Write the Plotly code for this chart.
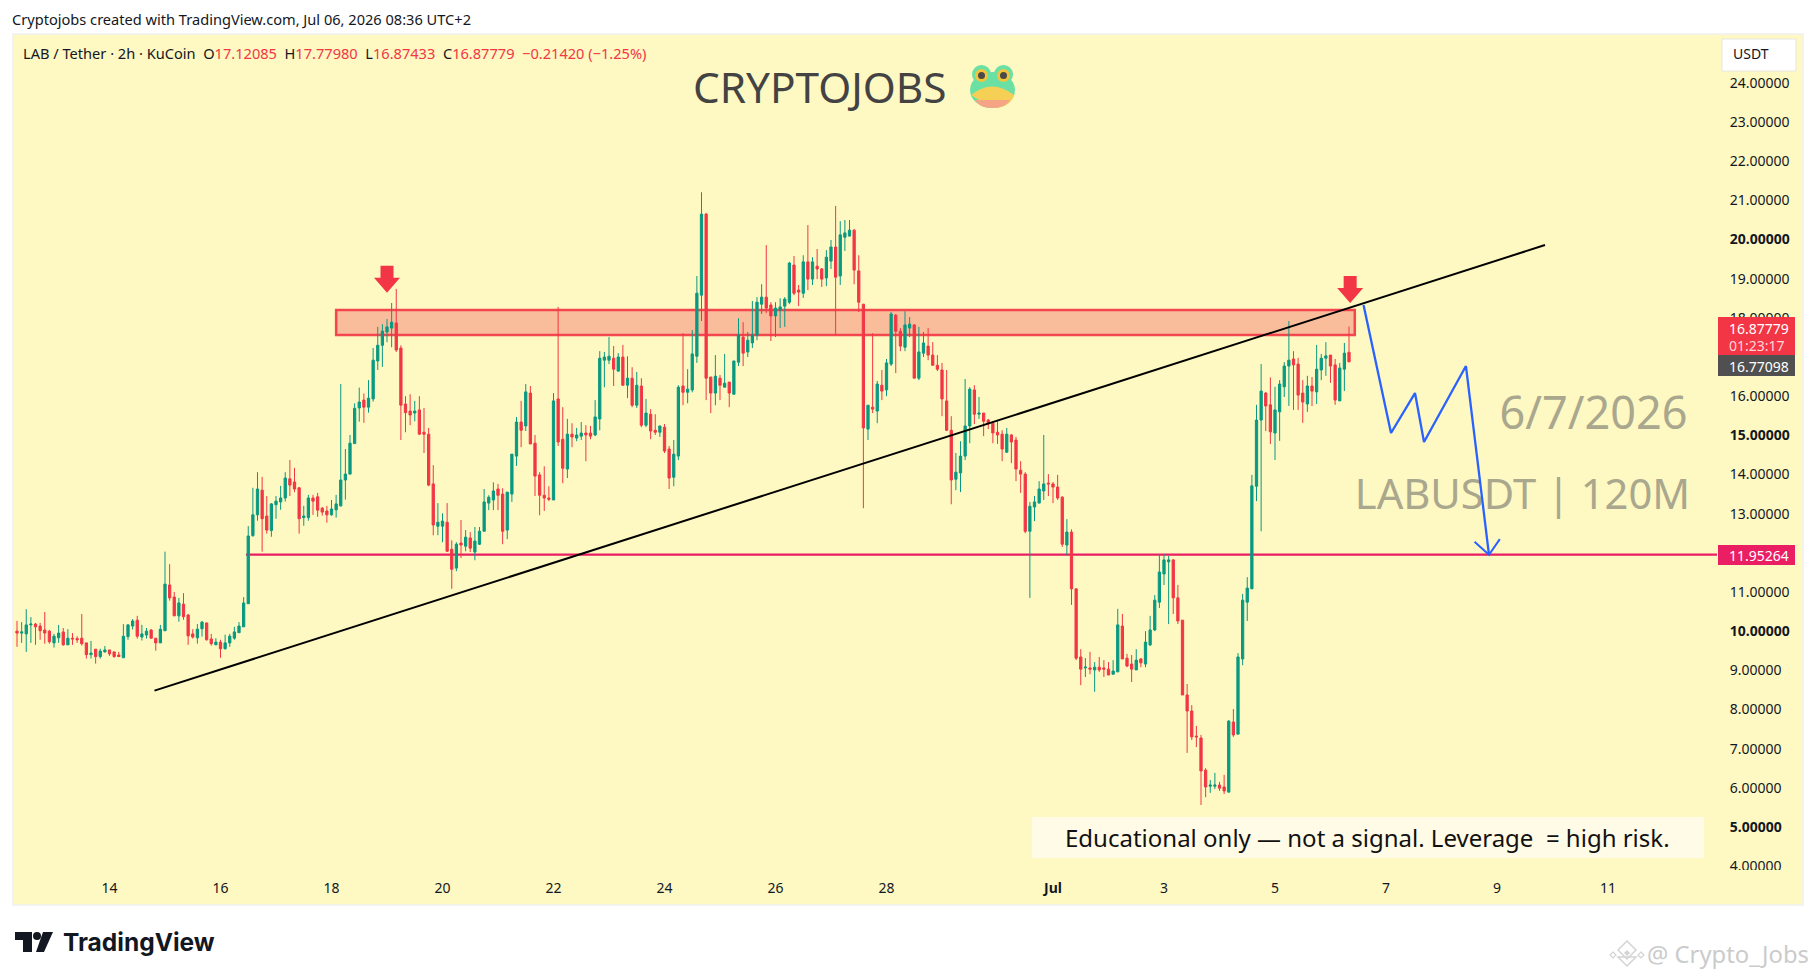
import pandas as pd
import plotly.graph_objects as go

# candles, 2h bars
opens = [
    10.00, 9.95, 9.93, 10.16, 10.18, 10.13, 10.03, 10.00, 9.70, 9.83,
    9.98, 9.65, 9.82, 9.81, 9.82, 9.70, 9.40, 9.54, 9.35, 9.47,
    9.52, 9.47, 9.39, 9.32, 9.86, 10.13, 10.28, 9.85, 9.90, 10.03,
    9.82, 9.70, 10.01, 11.18, 10.87, 10.39, 10.69, 10.41, 9.93, 9.83,
    10.06, 10.21, 9.80, 9.65, 9.72, 9.55, 9.70, 9.82, 9.96, 10.11,
    10.70, 12.44, 12.97, 13.60, 12.94, 12.57, 13.23, 13.30, 13.40, 13.89,
    13.81, 13.66, 12.90, 12.90, 13.40, 13.43, 13.14, 13.07, 12.97, 13.10,
    13.20, 13.86, 14.01, 14.79, 15.70, 15.90, 15.72, 15.93, 16.90, 17.30,
    17.64, 17.74, 17.87, 17.23, 15.80, 15.62, 15.57, 15.65, 15.08, 15.03,
    13.76, 12.68, 12.68, 12.78, 12.09, 11.61, 12.25, 12.17, 12.38, 12.02,
    12.22, 12.55, 13.27, 13.35, 13.63, 13.50, 12.58, 13.50, 14.47, 15.34,
    15.24, 16.08, 14.80, 13.99, 13.47, 13.40, 13.35, 15.93, 14.90, 14.14,
    15.03, 14.93, 14.98, 15.06, 15.06, 15.01, 15.42, 16.92, 16.92, 16.97,
    16.64, 17.00, 16.28, 16.46, 15.77, 16.26, 15.26, 15.54, 15.13, 15.08,
    15.21, 14.65, 13.93, 14.47, 16.26, 16.10, 16.16, 17.02, 18.58, 20.65,
    16.49, 16.08, 16.46, 16.23, 16.36, 16.05, 16.87, 17.51, 17.13, 17.36,
    17.56, 18.35, 18.53, 18.33, 18.05, 18.20, 18.30, 18.40, 19.35, 18.71,
    18.63, 19.43, 18.99, 19.32, 19.25, 19.02, 19.45, 19.81, 19.07, 20.06,
    20.09, 20.24, 19.20, 18.35, 15.16, 15.72, 15.62, 16.28, 16.16, 16.82,
    18.07, 17.66, 17.25, 17.74, 17.82, 16.46, 17.10, 17.28, 17.05, 16.79,
    16.67, 15.88, 15.13, 13.88, 14.04, 14.47, 15.24, 16.16, 15.54, 15.57,
    15.39, 15.31, 15.08, 15.03, 14.57, 15.01, 14.88, 14.11, 14.01, 12.55,
    13.17, 13.27, 13.58, 13.78, 13.76, 13.68, 13.42, 12.20, 12.53, 11.08,
    9.34, 9.06, 9.06, 9.01, 9.08, 9.06, 9.03, 8.90, 8.96, 10.13,
    9.31, 9.16, 9.01, 9.29, 9.16, 9.65, 10.03, 10.74, 11.46, 11.77,
    11.82, 10.85, 10.28, 8.37, 7.96, 7.32, 7.27, 6.45, 6.04, 6.04,
    6.07, 6.02, 5.89, 7.68, 7.37, 9.29, 10.74, 11.08, 13.70, 15.39,
    16.08, 15.78, 15.06, 15.60, 16.24, 16.77, 16.95, 16.82, 16.08, 15.80,
    16.26, 16.11, 16.67, 16.97, 17.05, 16.80, 15.88, 16.69, 17.12085,
]
highs = [
    10.26, 10.23, 10.56, 10.36, 10.21, 10.21, 10.49, 10.03, 9.93, 10.16,
    10.08, 10.05, 9.95, 9.87, 10.44, 9.70, 9.75, 9.54, 9.55, 9.62,
    9.52, 9.47, 9.47, 10.18, 10.18, 10.31, 10.39, 10.16, 10.08, 10.05,
    9.82, 10.16, 12.03, 11.71, 11.00, 10.85, 10.97, 10.44, 10.05, 10.18,
    10.26, 10.21, 9.93, 9.82, 9.78, 9.91, 9.93, 10.11, 10.23, 10.87,
    12.68, 13.66, 14.06, 13.94, 13.45, 13.27, 13.45, 13.71, 14.06, 14.37,
    14.17, 13.68, 13.20, 13.48, 13.48, 13.53, 13.17, 13.20, 13.35, 13.48,
    16.31, 14.65, 15.01, 15.82, 16.22, 16.07, 16.41, 17.23, 17.77, 17.84,
    17.97, 18.38, 18.74, 17.30, 16.00, 16.05, 15.88, 16.00, 15.70, 15.19,
    14.24, 13.27, 13.01, 13.27, 12.32, 12.27, 12.84, 12.58, 12.53, 12.66,
    12.66, 13.63, 13.47, 13.80, 13.76, 13.65, 13.55, 14.52, 15.47, 15.88,
    16.31, 16.26, 15.01, 14.06, 14.21, 13.70, 16.08, 18.28, 15.72, 15.42,
    15.31, 15.19, 15.34, 15.26, 15.24, 15.90, 17.15, 17.13, 17.51, 17.28,
    17.10, 17.31, 17.02, 16.74, 16.62, 16.46, 15.93, 15.67, 15.54, 15.24,
    15.29, 14.73, 14.88, 16.28, 17.61, 16.69, 17.69, 19.07, 21.21, 20.68,
    16.49, 17.05, 16.54, 17.08, 16.36, 16.90, 17.99, 17.89, 17.64, 18.43,
    18.53, 18.86, 19.86, 18.40, 18.40, 18.50, 18.53, 19.43, 19.58, 18.84,
    19.60, 20.37, 19.55, 19.76, 19.27, 19.73, 19.99, 20.86, 20.47, 20.50,
    20.50, 20.27, 19.60, 18.35, 15.77, 17.61, 16.39, 16.67, 16.95, 18.15,
    18.10, 17.74, 18.17, 18.02, 17.84, 17.77, 17.64, 17.74, 17.38, 17.05,
    16.85, 16.67, 15.49, 14.55, 14.85, 16.44, 16.23, 16.28, 15.98, 15.57,
    15.42, 15.36, 15.36, 15.13, 15.19, 15.03, 14.96, 14.34, 14.06, 13.30,
    13.45, 13.83, 15.01, 14.01, 13.81, 13.99, 13.45, 12.86, 12.60, 11.08,
    9.54, 9.31, 9.47, 9.21, 9.34, 9.26, 9.21, 9.26, 10.57, 10.44,
    9.42, 9.39, 9.54, 9.31, 10.00, 10.39, 10.92, 11.97, 11.97, 11.92,
    11.84, 11.18, 10.28, 8.65, 8.11, 7.58, 7.35, 6.50, 6.20, 6.38,
    6.15, 6.33, 7.73, 8.01, 9.44, 10.95, 11.38, 13.99, 15.78, 16.82,
    16.11, 16.48, 16.24, 16.41, 16.87, 17.92, 17.15, 16.98, 16.41, 16.52,
    16.49, 17.31, 17.08, 17.38, 17.05, 16.95, 16.85, 17.36, 17.7798,
]
lows = [
    9.60, 9.70, 9.47, 9.70, 9.65, 9.78, 9.68, 9.68, 9.58, 9.70,
    9.63, 9.65, 9.65, 9.70, 9.63, 9.30, 9.30, 9.17, 9.30, 9.45,
    9.37, 9.32, 9.35, 9.32, 9.78, 10.04, 9.81, 9.76, 9.81, 9.82,
    9.50, 9.70, 10.01, 10.78, 10.39, 10.24, 10.29, 9.65, 9.81, 9.68,
    9.86, 9.76, 9.63, 9.65, 9.32, 9.53, 9.60, 9.78, 9.96, 10.11,
    10.70, 12.41, 12.82, 12.03, 12.49, 12.41, 12.87, 13.10, 13.31, 13.45,
    13.55, 12.49, 12.69, 12.82, 12.97, 12.92, 12.95, 12.77, 12.95, 12.90,
    13.18, 13.36, 14.01, 14.79, 15.35, 15.32, 15.58, 15.86, 16.67, 16.75,
    17.38, 17.25, 17.13, 14.88, 15.08, 15.26, 15.36, 15.01, 14.55, 13.70,
    12.45, 12.45, 12.27, 12.02, 11.08, 11.53, 11.87, 12.04, 12.02, 11.81,
    12.20, 12.55, 13.09, 13.09, 13.09, 12.22, 12.35, 13.30, 14.22, 14.70,
    15.11, 14.78, 13.45, 12.96, 13.07, 13.32, 13.35, 14.73, 13.78, 13.91,
    14.70, 14.85, 14.88, 14.34, 14.90, 14.98, 15.13, 16.23, 16.82, 16.26,
    16.64, 16.28, 15.95, 15.72, 15.70, 15.21, 15.21, 14.90, 15.01, 14.96,
    14.55, 13.63, 13.70, 14.37, 15.77, 15.82, 16.10, 16.85, 17.92, 15.90,
    15.57, 15.77, 15.90, 16.23, 15.72, 16.05, 16.77, 16.77, 17.00, 17.23,
    17.43, 18.10, 18.12, 17.41, 17.51, 17.74, 17.77, 18.35, 18.58, 18.30,
    18.51, 18.71, 18.84, 18.99, 18.79, 18.81, 19.25, 17.56, 18.84, 19.71,
    20.08, 18.86, 18.15, 13.14, 14.88, 15.57, 15.31, 15.90, 16.00, 16.77,
    16.59, 17.15, 17.15, 17.51, 16.46, 16.41, 17.00, 16.92, 16.79, 16.64,
    15.49, 15.11, 13.24, 13.60, 13.55, 14.37, 14.80, 15.29, 15.42, 14.98,
    15.16, 14.80, 14.78, 14.34, 14.55, 14.29, 13.83, 13.53, 12.50, 10.85,
    12.81, 13.27, 13.35, 13.45, 13.27, 13.35, 12.15, 11.94, 10.67, 9.26,
    8.62, 8.83, 8.90, 8.45, 8.96, 8.83, 8.88, 8.90, 8.96, 9.29,
    9.08, 8.70, 9.01, 9.08, 9.08, 9.62, 10.00, 10.59, 11.18, 10.18,
    10.44, 10.18, 8.37, 6.89, 7.22, 7.04, 5.56, 5.76, 5.87, 5.97,
    5.92, 5.84, 5.87, 7.30, 7.37, 9.13, 10.26, 11.08, 13.32, 12.55,
    15.11, 14.78, 14.37, 14.86, 15.98, 15.75, 15.65, 15.65, 15.32, 15.60,
    15.75, 15.80, 16.41, 16.52, 16.34, 15.78, 15.88, 16.13, 16.87433,
]
closes = [
    9.95, 9.98, 10.16, 10.18, 10.11, 10.01, 9.95, 9.73, 9.87, 9.95,
    9.65, 9.82, 9.80, 9.78, 9.68, 9.40, 9.44, 9.35, 9.49, 9.52,
    9.42, 9.35, 9.35, 9.87, 10.16, 10.26, 9.87, 9.93, 10.00, 9.82,
    9.70, 10.05, 11.20, 10.85, 10.39, 10.72, 10.37, 9.88, 9.85, 10.05,
    10.23, 9.78, 9.68, 9.72, 9.55, 9.70, 9.87, 9.98, 10.13, 10.72,
    12.43, 12.97, 13.63, 12.87, 12.58, 13.25, 13.32, 13.40, 13.91, 13.73,
    13.63, 12.87, 12.94, 13.40, 13.32, 13.09, 13.04, 12.97, 13.12, 13.25,
    13.86, 14.01, 14.80, 15.69, 15.85, 15.72, 15.95, 16.92, 17.30, 17.66,
    17.77, 17.89, 17.18, 15.77, 15.58, 15.52, 15.62, 15.03, 15.03, 13.73,
    12.71, 12.78, 12.81, 12.04, 11.58, 12.22, 12.20, 12.40, 12.12, 12.30,
    12.55, 13.30, 13.42, 13.58, 13.47, 12.55, 13.55, 14.52, 15.34, 15.13,
    16.11, 14.78, 13.96, 13.47, 13.40, 13.37, 15.88, 14.83, 14.16, 15.03,
    14.96, 15.01, 15.06, 15.01, 14.98, 15.47, 16.97, 17.00, 17.02, 16.69,
    17.00, 16.28, 16.46, 15.77, 16.28, 15.26, 15.57, 15.11, 15.08, 15.24,
    14.60, 13.91, 14.52, 16.23, 16.10, 16.18, 17.08, 18.63, 20.65, 16.46,
    16.08, 16.51, 16.28, 16.33, 16.08, 16.90, 17.56, 17.10, 17.43, 17.56,
    18.40, 18.53, 18.25, 18.05, 18.25, 18.28, 18.48, 19.40, 18.63, 18.66,
    19.43, 18.99, 19.43, 19.25, 18.99, 19.55, 19.81, 19.04, 20.12, 20.17,
    20.24, 19.22, 18.40, 15.19, 15.77, 15.67, 16.31, 16.13, 16.85, 18.10,
    17.66, 17.28, 17.82, 17.84, 16.46, 17.13, 17.36, 17.05, 16.79, 16.69,
    15.93, 15.13, 13.86, 14.06, 14.47, 15.24, 16.18, 15.54, 15.57, 15.36,
    15.29, 15.06, 15.01, 14.65, 15.03, 14.83, 14.14, 14.01, 12.55, 13.19,
    13.30, 13.63, 13.76, 13.76, 13.68, 13.40, 12.22, 12.53, 11.08, 9.31,
    9.03, 9.08, 9.03, 9.08, 9.01, 9.03, 8.88, 8.98, 10.16, 9.29,
    9.11, 9.03, 9.26, 9.19, 9.72, 10.03, 10.79, 11.51, 11.82, 11.82,
    10.85, 10.26, 8.37, 7.96, 7.30, 7.30, 6.43, 6.02, 6.07, 6.07,
    5.99, 5.92, 7.70, 7.35, 9.34, 10.79, 11.10, 13.71, 15.39, 16.13,
    15.75, 15.09, 15.65, 16.31, 16.77, 16.92, 16.80, 16.03, 15.85, 16.26,
    16.13, 16.69, 16.97, 17.03, 16.77, 15.90, 16.72, 17.10, 16.87779,
]
bar_times = pd.date_range("2026-06-12 08:00", periods=len(opens), freq="2h")

# 17 sits fully behind the price labels, so it is left out
y_tick_vals = [v for v in range(4, 25) if v != 17]
y_tick_text = ["<b>%.5f</b>" % v if v % 5 == 0 else "%.5f" % v for v in y_tick_vals]
x_tick_vals = ["2026-06-14", "2026-06-16", "2026-06-18", "2026-06-20", "2026-06-22", "2026-06-24",
               "2026-06-26", "2026-06-28", "2026-07-01", "2026-07-03", "2026-07-05", "2026-07-07",
               "2026-07-09", "2026-07-11"]
x_tick_text = ["14", "16", "18", "20", "22", "24", "26", "28", "<b>Jul</b>", "3", "5", "7", "9", "11"]

# drawings on the chart
trend_x = ["2026-06-14 19:27", "2026-07-09 20:45"]
trend_y = [8.48, 19.86]
path_x = ["2026-07-06 14:17", "2026-07-07 02:10", "2026-07-07 12:32", "2026-07-07 16:26",
          "2026-07-08 10:34", "2026-07-08 20:32"]
path_y = [18.33, 15.06, 16.08, 14.83, 16.77, 11.95]
head_x = ["2026-07-08 14:17", "2026-07-08 20:32", "2026-07-09 01:13"]
head_y = [12.28, 11.95, 12.35]
zone_x = ["2026-06-18 02:00", "2026-07-06 10:30"]
zone_y = [17.56, 18.20]
support_x = ["2026-06-16 11:00", "2026-07-12 23:08"]
support_y = 11.95264
marker_x = ["2026-06-19 00:00", "2026-07-06 08:30"]
marker_y = [18.64, 18.38]

W, H = 1815, 980
UP, DOWN = "#089981", "#F23645"
BG = "#FEF8C2"
FONT = "Noto Sans"


def px(x):
    return x / W


def py(y):
    return 1 - y / H


def box(x0, y0, x1, y1, fill, line=None, layer="above", kind="rect", lw=1):
    return dict(type=kind, xref="paper", yref="paper", x0=px(x0), x1=px(x1), y0=py(y0), y1=py(y1),
                fillcolor=fill, line=dict(color=line or fill, width=lw if line else 0), layer=layer)


def poly(points, fill, line=None, lw=0):
    d = "M " + " L ".join("%.5f %.5f" % (px(a), py(b)) for a, b in points) + " Z"
    return dict(type="path", xref="paper", yref="paper", path=d, fillcolor=fill,
                line=dict(color=line or fill, width=lw), layer="above")


def label(x, y, text, size=14, color="#131722", anchor="left", family=FONT):
    return dict(xref="paper", yref="paper", x=px(x), y=py(y), text=text, showarrow=False, xanchor=anchor,
                yanchor="middle", font=dict(family=family, size=size, color=color), borderpad=0, borderwidth=0)


fig = go.Figure()
fig.add_trace(go.Scatter(x=["2026-07-10 17:45"], y=[15.45], mode="text", text=["6/7/2026"],
                         textfont=dict(family=FONT, size=45, color="#A9A78D"), hoverinfo="skip"))
fig.add_trace(go.Scatter(x=["2026-07-09 11:00"], y=[13.38], mode="text", text=["LABUSDT | 120M"],
                         textfont=dict(family=FONT, size=41.7, color="#A9A78D"), hoverinfo="skip"))
fig.add_trace(go.Candlestick(
    x=bar_times, open=opens, high=highs, low=lows, close=closes,
    increasing=dict(line=dict(color=UP, width=1), fillcolor=UP),
    decreasing=dict(line=dict(color=DOWN, width=1), fillcolor=DOWN),
    whiskerwidth=0))
fig.add_trace(go.Scatter(x=trend_x, y=trend_y, mode="lines", line=dict(color="#000000", width=2)))
fig.add_trace(go.Scatter(x=path_x, y=path_y, mode="lines", line=dict(color="#2962FF", width=2.3)))
fig.add_trace(go.Scatter(x=head_x, y=head_y, mode="lines", line=dict(color="#2962FF", width=2)))

shapes = [
    box(13, 34, 1803, 905, BG, line="#F0F0F0", layer="below", lw=1.5),
    dict(type="rect", xref="x", yref="y", x0=zone_x[0], x1=zone_x[1], y0=zone_y[0], y1=zone_y[1],
         fillcolor="rgba(242,54,69,0.3)", line=dict(color="rgba(242,54,69,0.9)", width=2.5), layer="below"),
    dict(type="line", xref="x", yref="y", x0=support_x[0], x1=support_x[1], y0=support_y, y1=support_y,
         line=dict(color="#E91E63", width=2.2), layer="below"),
    # price labels, these also cover the ticks under them
    box(1718, 317, 1795, 355, "#F23645"),
    box(1718, 355, 1795, 376, "#505050"),
    box(1718, 545, 1795, 565, "#E91E63"),
    box(1722, 870, 1800, 900, BG),
    box(1722, 39, 1796, 71, "#FFFFFF", line="#E6E6E0"),
    # disclaimer
    box(1032, 817, 1704, 858, "#FFFBE6"),
]
# red arrows, tip sits on the price
for mx, my in zip(marker_x, marker_y):
    shapes.append(dict(type="path", xref="x", yref="y", xsizemode="pixel", ysizemode="pixel",
                       xanchor=mx, yanchor=my, path="M 0 0 L -13 15 L -6.5 15 L -6.5 27 L 6.5 27 L 6.5 15 L 13 15 Z",
                       fillcolor="#F23645", line=dict(width=0), layer="above"))

# frog
shapes += [
    box(972, 65, 991, 84, "#6BE0A4", kind="circle"),
    box(994, 65, 1013, 84, "#6BE0A4", kind="circle"),
    box(970, 72, 1015, 108, "#6BE0A4", kind="circle"),
    box(975, 69, 988, 82, "#F2C53D", kind="circle"),
    box(997, 69, 1010, 82, "#F2C53D", kind="circle"),
    box(978, 72, 985, 79, "#4A4A48", kind="circle"),
    box(1000, 72, 1007, 79, "#4A4A48", kind="circle"),
    dict(type="path", xref="paper", yref="paper",
         path="M %f %f Q %f %f %f %f Q %f %f %f %f Z" % (
             px(971), py(95), px(992), py(78), px(1014), py(95), px(1010), py(108), px(992), py(108)),
         fillcolor="#F6CF55", line=dict(width=0), layer="above"),
    dict(type="path", xref="paper", yref="paper",
         path="M %f %f L %f %f Q %f %f %f %f Q %f %f %f %f Z" % (
             px(975), py(100), px(1010), py(100), px(1006), py(108), px(992), py(108), px(979), py(108), px(975), py(100)),
         fillcolor="#F5A585", line=dict(width=0), layer="above"),
]
# TradingView mark
shapes += [
    poly([(15, 932), (32, 932), (32, 952), (23, 952), (23, 940), (15, 940)], "#131722"),
    box(33, 932, 41, 940, "#131722", kind="circle"),
    poly([(43, 932), (53, 932), (44, 952), (36, 952)], "#131722"),
]
# diamond next to the handle
shapes += [
    poly([(1627, 941), (1636, 950), (1627, 959), (1618, 950)], "rgba(0,0,0,0)", line="#D4D4D4", lw=1.5),
    poly([(1627, 950), (1630, 953), (1627, 956), (1624, 953)], "#D4D4D4"),
    poly([(1618, 957), (1627, 966), (1636, 957)], "rgba(0,0,0,0)", line="#D4D4D4", lw=1.5),
    poly([(1613, 952), (1616, 955), (1613, 958), (1610, 955)], "rgba(0,0,0,0)", line="#D4D4D4", lw=1.2),
    poly([(1641, 952), (1644, 955), (1641, 958), (1638, 955)], "rgba(0,0,0,0)", line="#D4D4D4", lw=1.2),
]

legend_text = ('LAB / Tether · 2h · KuCoin  O<span style="color:#F23645">17.12085</span>  '
               'H<span style="color:#F23645">17.77980</span>  L<span style="color:#F23645">16.87433</span>  '
               'C<span style="color:#F23645">16.87779</span>  <span style="color:#F23645">−0.21420 (−1.25%)</span>')
annotations = [
    label(12, 19, "Cryptojobs created with TradingView.com, Jul 06, 2026 08:36 UTC+2", size=14.6),
    label(23, 53, legend_text, size=14.6),
    label(693, 87, "CRYPTOJOBS", size=42.3, color="#434343"),
    label(1733, 54, "USDT", size=14),
    label(1729, 328, "16.87779", size=14, color="#FFFFFF"),
    label(1729, 345, "01:23:17", size=14, color="#FFD5D8"),
    label(1729, 366, "16.77098", size=14, color="#FFFFFF"),
    label(1729, 555, "11.95264", size=14, color="#FFFFFF"),
    label(1065, 837, "Educational only — not a signal. Leverage\u00a0\u00a0= high risk.", size=24, color="#111111"),
    label(63, 942, "<b>TradingView</b>", size=24.5, color="#131722", family="Inter"),
    label(1647, 954, "@ Crypto_Jobs", size=23.8, color="#CBCBCB"),
]

fig.update_layout(
    width=W, height=H, margin=dict(l=0, r=0, t=0, b=0, autoexpand=False),
    paper_bgcolor="#FFFFFF", plot_bgcolor="rgba(0,0,0,0)", showlegend=False,
    shapes=shapes, annotations=annotations, font=dict(family=FONT, size=14, color="#131722"),
    xaxis=dict(type="date", domain=[px(13), px(1717)], range=["2026-06-12 06:16", "2026-07-12 23:08"],
               rangeslider=dict(visible=False), showgrid=False, zeroline=False, showline=False,
               tickmode="array", tickvals=x_tick_vals, ticktext=x_tick_text, ticks="outside",
               ticklen=5, tickcolor="rgba(0,0,0,0)", tickfont=dict(family=FONT, size=14, color="#131722")),
    yaxis=dict(domain=[py(870), py(34)], range=[3.90, 25.25], side="right", showgrid=False, zeroline=False,
               showline=False, tickmode="array", tickvals=y_tick_vals, ticktext=y_tick_text, ticks="outside",
               ticklen=9, tickcolor="rgba(0,0,0,0)", tickfont=dict(family=FONT, size=14, color="#131722")),
)

fig.write_html("out.html", config=dict(displayModeBar=False),
               post_script="document.body.style.margin='0';document.body.style.overflow='hidden';")
